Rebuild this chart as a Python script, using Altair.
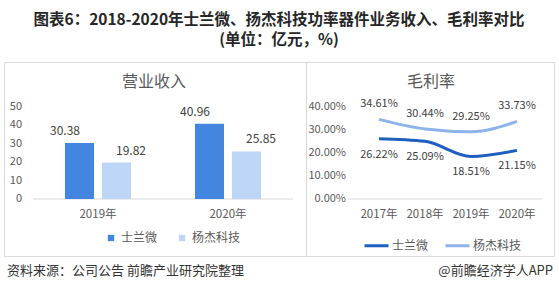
import altair as alt
import pandas as pd

FONT = "Noto Sans CJK SC"

title_lines = ["图表6：2018-2020年士兰微、扬杰科技功率器件业务收入、毛利率对比", "(单位：亿元，%)"]
footer_left = ["资料来源：公司公告 前瞻产业研究院整理"]
footer_right = ["@前瞻经济学人APP"]
panel_titles = ["营业收入", "毛利率"]

companies = ["士兰微", "杨杰科技"]
bar_years = ["2019年", "2020年"]
rev_silan = [30.38, 40.96]
rev_yangjie = [19.82, 25.85]
rev_ticks = [0, 10, 20, 30, 40, 50]

line_years = ["2017年", "2018年", "2019年", "2020年"]
gm_silan = [26.22, 25.09, 18.51, 21.15]
gm_yangjie = [34.61, 30.44, 29.25, 33.73]
gm_ticks = [0, 10, 20, 30, 40]

bar_colors = ["#4286E0", "#BDD6F5"]
line_colors = ["#1F5FBF", "#8DB4EA"]

GRAY = "#595959"
LINEGRAY = "#D9D9D9"

# ---------- data tables ----------
bars_df = pd.DataFrame({
    "year": bar_years * 2,
    "company": [companies[0]] * len(bar_years) + [companies[1]] * len(bar_years),
    "value": rev_silan + rev_yangjie,
})
bars_df["label"] = bars_df["value"].map(lambda v: f"{v:.2f}")

lines_df = pd.DataFrame({
    "year": line_years * 2,
    "company": [companies[0]] * len(line_years) + [companies[1]] * len(line_years),
    "value": gm_silan + gm_yangjie,
})
lines_df["label"] = lines_df["value"].map(lambda v: f"{v:.2f}%")

rev_ticks_df = pd.DataFrame({"t": rev_ticks})
rev_ticks_df["label"] = rev_ticks_df["t"].map(str)
gm_ticks_df = pd.DataFrame({"t": gm_ticks})
gm_ticks_df["label"] = gm_ticks_df["t"].map(lambda v: f"{v:.2f}%")

one = pd.DataFrame({"z": [0]})

# ---------- scales ----------
xL = alt.Scale(domain=bar_years, range=[33, 293], paddingInner=0.4923, paddingOuter=0.246)
xoffL = alt.Scale(domain=companies, range=[0, 66], paddingInner=8 / 37, paddingOuter=0)
yL = alt.Scale(domain=[0, 50], range=[199, 107], nice=False, zero=True)

xR = alt.Scale(type="point", domain=line_years, range=[356, 540], padding=0.5)
yR = alt.Scale(domain=[0, 40], range=[199, 107], nice=False, zero=True)

# ---------- frame ----------
frame = alt.Chart(one).mark_rect(fillOpacity=0, stroke=LINEGRAY, strokeWidth=1).encode(
    x=alt.value(4.5), x2=alt.value(554.5), y=alt.value(62.5), y2=alt.value(256.5)
)
divider = alt.Chart(one).mark_rule(color=LINEGRAY, strokeWidth=1).encode(
    x=alt.value(306.5), y=alt.value(62.5), y2=alt.value(256.5)
)

def text_layer(items, x, y, size, align="center", color=GRAY, weight="normal"):
    return alt.Chart(pd.DataFrame({"t": items})).mark_text(
        font=FONT, fontSize=size, align=align, baseline="middle", color=color, fontWeight=weight
    ).encode(x=alt.value(x), y=alt.value(y), text="t:N")

title1 = text_layer(title_lines[:1], 279, 20, 15.5, color="#262626", weight="bold")
title2 = text_layer(title_lines[1:], 279, 40, 15.5, color="#262626", weight="bold")
foot1 = text_layer(footer_left, 7, 271, 13, align="left", color="#333333")
foot2 = text_layer(footer_right, 553, 271, 13, align="right", color="#333333")
ptitle1 = text_layer(panel_titles[:1], 154, 82, 16)
ptitle2 = text_layer(panel_titles[1:], 431, 82, 16)

# ---------- left panel: revenue bars ----------
bars = alt.Chart(bars_df).mark_bar().encode(
    x=alt.X("year:N", scale=xL, axis=None),
    xOffset=alt.XOffset("company:N", scale=xoffL),
    y=alt.Y("value:Q", scale=yL, axis=None),
    color=alt.Color(
        "company:N",
        scale=alt.Scale(domain=companies, range=bar_colors),
        legend=alt.Legend(
            orient="none", legendX=105, legendY=232, direction="horizontal", title=None,
            symbolType="square", symbolSize=40, symbolStrokeWidth=0,
            labelFont=FONT, labelFontSize=12, labelColor=GRAY,
            labelOffset=4, columnPadding=18, padding=0,
        ),
    ),
)
bar_labels = alt.Chart(bars_df).mark_text(
    font=FONT, fontSize=12, color="#404040", baseline="bottom", dy=-5
).encode(
    x=alt.X("year:N", scale=xL, axis=None),
    xOffset=alt.XOffset("company:N", scale=xoffL),
    y=alt.Y("value:Q", scale=yL, axis=None),
    text="label:N",
)
rev_tick_labels = alt.Chart(rev_ticks_df).mark_text(
    font=FONT, fontSize=11, color=GRAY, align="right", baseline="middle"
).encode(x=alt.value(22), y=alt.Y("t:Q", scale=yL, axis=None), text="label:N")
rev_xlabels = alt.Chart(pd.DataFrame({"year": bar_years})).mark_text(
    font=FONT, fontSize=11.5, color=GRAY, baseline="middle"
).encode(x=alt.X("year:N", scale=xL, axis=None), y=alt.value(215), text="year:N")
rev_base = alt.Chart(pd.DataFrame({"t": [0]})).mark_rule(color=LINEGRAY).encode(
    y=alt.Y("t:Q", scale=yL, axis=None), x=alt.value(33), x2=alt.value(293)
)

# ---------- right panel: gross margin lines ----------
lines = alt.Chart(lines_df).mark_line(strokeWidth=3, interpolate="monotone").encode(
    x=alt.X("year:N", scale=xR, axis=None),
    y=alt.Y("value:Q", scale=yR, axis=None),
    color=alt.Color(
        "company:N",
        scale=alt.Scale(domain=companies, range=line_colors),
        legend=alt.Legend(
            orient="none", legendX=363, legendY=232, direction="horizontal", title=None,
            symbolType="stroke", symbolSize=576, symbolStrokeWidth=3,
            labelFont=FONT, labelFontSize=12, labelColor=GRAY,
            labelOffset=2, columnPadding=10, padding=0,
        ),
    ),
)
line_labels_lo = alt.Chart(lines_df[lines_df["company"] == companies[0]]).mark_text(
    font=FONT, fontSize=11, color="#404040", baseline="middle", dy=16
).encode(
    x=alt.X("year:N", scale=xR, axis=None),
    y=alt.Y("value:Q", scale=yR, axis=None),
    text="label:N",
)
line_labels_hi = alt.Chart(lines_df[lines_df["company"] == companies[1]]).mark_text(
    font=FONT, fontSize=11, color="#404040", baseline="middle", dy=-15
).encode(
    x=alt.X("year:N", scale=xR, axis=None),
    y=alt.Y("value:Q", scale=yR, axis=None),
    text="label:N",
)
gm_tick_labels = alt.Chart(gm_ticks_df).mark_text(
    font=FONT, fontSize=11, color=GRAY, align="right", baseline="middle"
).encode(x=alt.value(346), y=alt.Y("t:Q", scale=yR, axis=None), text="label:N")
gm_xlabels = alt.Chart(pd.DataFrame({"year": line_years})).mark_text(
    font=FONT, fontSize=11.5, color=GRAY, baseline="middle"
).encode(x=alt.X("year:N", scale=xR, axis=None), y=alt.value(215), text="year:N")
gm_base = alt.Chart(pd.DataFrame({"t": [0]})).mark_rule(color=LINEGRAY).encode(
    y=alt.Y("t:Q", scale=yR, axis=None), x=alt.value(348), x2=alt.value(542)
)

chart = alt.layer(
    frame, divider, title1, title2, foot1, foot2, ptitle1, ptitle2,
    rev_base, bars, bar_labels, rev_tick_labels, rev_xlabels,
    gm_base, lines, line_labels_lo, line_labels_hi, gm_tick_labels, gm_xlabels,
).resolve_scale(
    x="independent", y="independent", color="independent", xOffset="independent"
).resolve_legend(
    color="independent"
).properties(
    width=559, height=299, autosize=alt.AutoSizeParams(type="none"), padding=0,
    background="white",
).configure_view(stroke=None)

chart.save("out.html", embed_options={"renderer": "svg", "actions": False})
